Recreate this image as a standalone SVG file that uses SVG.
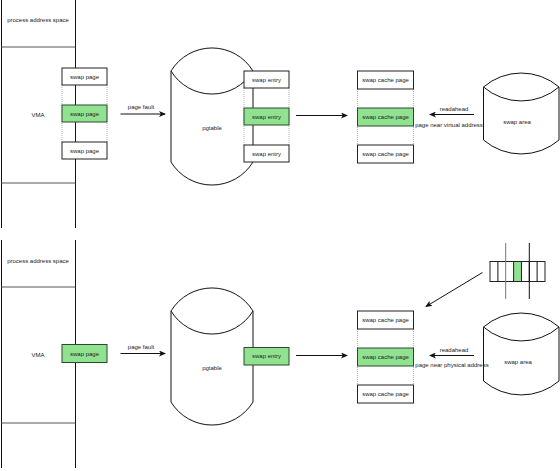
<svg xmlns="http://www.w3.org/2000/svg" width="560" height="471" viewBox="0 0 560 471">
<style>
text{font-family:"Liberation Sans",Arial,sans-serif;font-size:6px;fill:#222;text-anchor:middle}
.ln{stroke:#111;stroke-width:1;fill:none}
.hl{stroke:#555;stroke-width:1;fill:none}
.box{fill:#fff;stroke:#222;stroke-width:1}
.grn{fill:#90e290;stroke:#2a4a2a;stroke-width:1}
.dot{stroke:#999;stroke-width:0.8;stroke-dasharray:1,1;fill:none}
.cyl{fill:#fff;stroke:#111;stroke-width:1}
.arr{stroke:#111;stroke-width:1;fill:none;marker-end:url(#ah)}
</style>
<defs>
<marker id="ah" markerUnits="userSpaceOnUse" markerWidth="7" markerHeight="6" refX="6" refY="3" orient="auto">
<path d="M0,0 L7,3 L0,6 L1.8,3 z" fill="#111"/>
</marker>
</defs>
<rect width="560" height="471" fill="#fff"/>

<g id="top-address-space">
<line class="ln" x1="1.5" y1="0" x2="1.5" y2="228"/>
<line class="ln" x1="75.5" y1="0" x2="75.5" y2="228"/>
<line class="hl" x1="1.5" y1="47" x2="75.5" y2="47"/>
<line class="hl" x1="1.5" y1="183" x2="75.5" y2="183"/>
<text x="38" y="22">process address space</text>
<text x="38" y="117">VMA</text>
</g>
<g id="top-swap-pages">
<line class="dot" x1="62" y1="85" x2="62" y2="142"/>
<line class="dot" x1="107" y1="85" x2="107" y2="142"/>
<rect class="box" x="62" y="68" width="45" height="17"/>
<text x="84.5" y="78.5">swap page</text>
<rect class="grn" x="62" y="105" width="45" height="17"/>
<text x="84.5" y="115.5">swap page</text>
<rect class="box" x="62" y="142" width="45" height="17"/>
<text x="84.5" y="152.5">swap page</text>
</g>
<g id="top-pgtable">
<path class="cyl" d="M171,71 A48,48 0 0 1 253,71 L253,162 A48,48 0 0 1 171,162 Z"/>
<path class="cyl" fill="none" d="M171,71 A48,48 0 0 0 253,71"/>
<text x="212" y="130">pgtable</text>
</g>
<g id="top-swap-entries">
<line class="dot" x1="244" y1="88" x2="244" y2="145"/>
<line class="dot" x1="289" y1="88" x2="289" y2="145"/>
<rect class="box" x="244" y="71" width="45" height="17"/>
<text x="266.5" y="81.5">swap entry</text>
<rect class="grn" x="244" y="108" width="45" height="17"/>
<text x="266.5" y="118.5">swap entry</text>
<rect class="box" x="244" y="145" width="45" height="17"/>
<text x="266.5" y="155.5">swap entry</text>
</g>
<g id="top-swap-cache">
<line class="dot" x1="357.5" y1="89" x2="357.5" y2="145"/>
<line class="dot" x1="413.5" y1="89" x2="413.5" y2="145"/>
<rect class="box" x="357.5" y="71" width="56" height="18"/>
<text x="385.5" y="82">swap cache page</text>
<rect class="grn" x="357.5" y="108" width="56" height="18"/>
<text x="385.5" y="119">swap cache page</text>
<rect class="box" x="357.5" y="145" width="56" height="18"/>
<text x="385.5" y="156">swap cache page</text>
</g>
<g id="top-swap-area">
<path class="cyl" d="M483.5,87 A58,58 0 0 1 559,87 L559,140 A58,58 0 0 1 483.5,140 Z"/>
<path class="cyl" fill="none" d="M483.5,87 A58,58 0 0 0 559,87"/>
<text x="517" y="124">swap area</text>
</g>

<g id="bottom-address-space">
<line class="ln" x1="1.5" y1="240" x2="1.5" y2="468"/>
<line class="ln" x1="75.5" y1="240" x2="75.5" y2="468"/>
<line class="hl" x1="1.5" y1="287" x2="75.5" y2="287"/>
<line class="hl" x1="1.5" y1="423" x2="75.5" y2="423"/>
<text x="38" y="263">process address space</text>
<text x="38" y="357">VMA</text>
</g>
<g id="bottom-swap-page">
<rect class="grn" x="62" y="344.5" width="45" height="18"/>
<text x="84.5" y="355.5">swap page</text>
</g>
<g id="bottom-pgtable">
<path class="cyl" d="M171,311 A48,48 0 0 1 253,311 L253,402 A48,48 0 0 1 171,402 Z"/>
<path class="cyl" fill="none" d="M171,311 A48,48 0 0 0 253,311"/>
<text x="212" y="370">pgtable</text>
</g>
<g id="bottom-swap-entry">
<rect class="grn" x="244" y="347.5" width="45" height="17.5"/>
<text x="266.5" y="358.3">swap entry</text>
</g>
<g id="bottom-swap-cache">
<line class="dot" x1="357.5" y1="329" x2="357.5" y2="385"/>
<line class="dot" x1="413.5" y1="329" x2="413.5" y2="385"/>
<rect class="box" x="357.5" y="311" width="56" height="18"/>
<text x="385.5" y="322">swap cache page</text>
<rect class="grn" x="357.5" y="348" width="56" height="18"/>
<text x="385.5" y="359">swap cache page</text>
<rect class="box" x="357.5" y="385" width="56" height="18"/>
<text x="385.5" y="396">swap cache page</text>
</g>
<g id="bottom-swap-area">
<path class="cyl" d="M483.5,327 A58,58 0 0 1 559,327 L559,381 A58,58 0 0 1 483.5,381 Z"/>
<path class="cyl" fill="none" d="M483.5,327 A58,58 0 0 0 559,327"/>
<text x="518" y="364">swap area</text>
</g>
<g id="disk-stripe">
<rect x="490" y="261.5" width="55" height="20" fill="#fff" stroke="#222" stroke-width="1"/>
<rect x="513.6" y="261.5" width="7.86" height="20" fill="#90e290" stroke="#222" stroke-width="1"/>
<line class="ln" x1="497.9" y1="261.5" x2="497.9" y2="281.5"/>
<line class="ln" x1="529.3" y1="261.5" x2="529.3" y2="281.5"/>
<line class="ln" x1="537.1" y1="261.5" x2="537.1" y2="281.5"/>
<line stroke="#777" stroke-width="1" x1="505.7" y1="243" x2="505.7" y2="299"/>
<line class="ln" x1="529.3" y1="243" x2="529.3" y2="299"/>
</g>

<g id="connectors">
<line class="arr" x1="120.5" y1="114" x2="165" y2="114"/>
<text x="141" y="109">page fault</text>
<line class="arr" x1="296" y1="115.5" x2="347" y2="115.5"/>
<line class="arr" x1="474" y1="114.5" x2="430" y2="114.5"/>
<text x="454" y="111">readahead</text>
<text x="449" y="127">page near virtual address</text>

<line class="arr" x1="120.5" y1="353.5" x2="165" y2="353.5"/>
<text x="141" y="349">page fault</text>
<line class="arr" x1="296" y1="355.5" x2="347" y2="355.5"/>
<line class="arr" x1="474" y1="355.5" x2="430" y2="355.5"/>
<text x="454" y="351.5">readahead</text>
<text x="452" y="367">page near physical address</text>
<line class="arr" x1="482.5" y1="272.5" x2="426" y2="306.5"/>
</g>
</svg>
